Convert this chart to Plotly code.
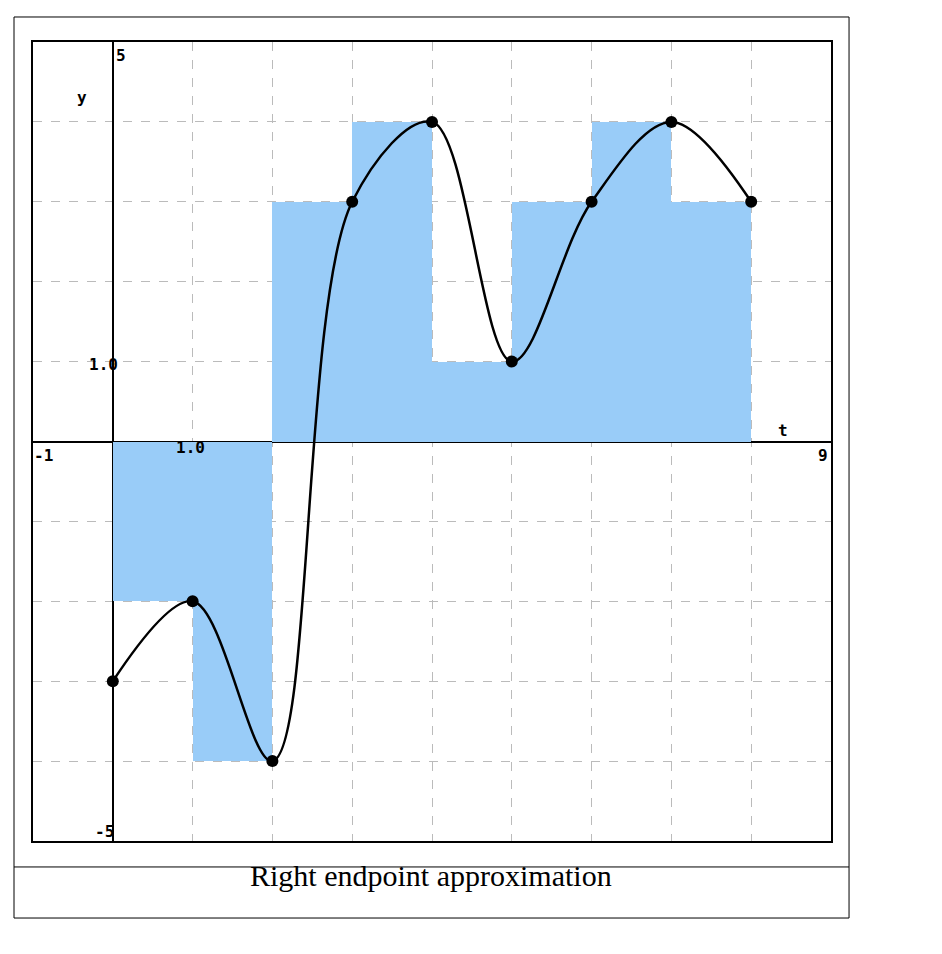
import plotly.graph_objects as go

t_pts = [0, 1, 2, 3, 4, 5, 6, 7, 8]
y_pts = [-3, -2, -4, 3, 4, 1, 3, 4, 3]
rect_mid = [0.5, 1.5, 2.5, 3.5, 4.5, 5.5, 6.5, 7.5]
rect_h = [-2, -4, 3, 4, 1, 3, 4, 3]

fig = go.Figure()
fig.add_trace(go.Bar(x=rect_mid, y=rect_h, width=1, marker=dict(color="#99ccf8", line=dict(width=0))))
fig.add_trace(go.Scatter(x=t_pts, y=y_pts, mode="lines+markers",
                         line=dict(color="black", width=2.5, shape="spline", smoothing=1.0),
                         marker=dict(color="black", size=12)))

grid = dict(showgrid=True, gridcolor="#bbbbbb", griddash="dash", gridwidth=1,
            zeroline=True, zerolinecolor="black", zerolinewidth=1.5,
            showticklabels=False, ticks="", dtick=1, layer="above traces",
            showline=True, linecolor="black", linewidth=2, mirror=True)
fig.update_layout(
    width=942, height=954, showlegend=False, plot_bgcolor="white", paper_bgcolor="white",
    margin=dict(l=25, r=119, t=34, b=121),
    xaxis=dict(range=[-1, 9], **grid), yaxis=dict(range=[-5, 5], **grid),
    bargap=0,
)
mono = dict(family="DejaVu Sans Mono", size=16, color="black")
labels = [("5", 0.1, 4.83), ("y", -0.38, 4.3), ("1.0", -0.12, 0.97), ("1.0", 0.97, -0.08),
          ("-1", -0.87, -0.18), ("9", 8.9, -0.18), ("t", 8.4, 0.14), ("-5", -0.1, -4.88)]
for txt, x, y in labels:
    fig.add_annotation(x=x, y=y, text="<b>%s</b>" % txt, showarrow=False, font=mono)

fig.add_shape(type="rect", xref="paper", yref="paper", x0=-0.0238, x1=1.0226, y0=-0.0964, y1=1.0313,
              line=dict(color="black", width=1))
fig.add_shape(type="line", xref="paper", yref="paper", x0=-0.0238, x1=1.0226, y0=-0.0325, y1=-0.0325,
              line=dict(color="black", width=1))
fig.add_annotation(xref="paper", yref="paper", x=0.4987, y=-0.066, text="Right endpoint approximation",
                   showarrow=False, font=dict(family="Liberation Serif", size=30, color="black"))
fig.write_html("out.html")
